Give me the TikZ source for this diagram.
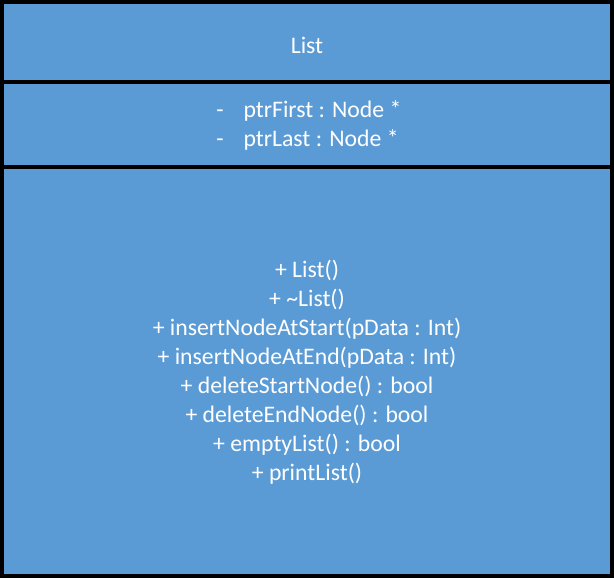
\documentclass[tikz,border=0pt]{standalone}
\usepackage{fontspec}
\setmainfont{Carlito}
\definecolor{umlblue}{HTML}{5B9BD5}
\begin{document}
\begin{tikzpicture}[x=0.75pt,y=-0.75pt,
  box/.style={fill=umlblue,draw=none},
  txt/.style={text=white,font=\fontsize{17.8pt}{21.75pt}\selectfont,inner sep=0pt}]
\fill[black] (0,0) rectangle (614,578);
\useasboundingbox (0,0) rectangle (614,578);
\fill[box] (4,4) rectangle (610,80);
\fill[box] (4,84) rectangle (610,165);
\fill[box] (4,169) rectangle (610,574);
\node[txt] (name) at (307,45) {List};
\node[txt,anchor=west] (attr1) at (216,111) {-\hspace{15pt}ptrFirst : Node *};
\node[txt,anchor=west] (attr2) at (216,140) {-\hspace{15pt}ptrLast : Node *};
\node[txt,align=center] (ops) at (307,372) {+ List()\\+ \textasciitilde List()\\+ insertNodeAtStart(pData : Int)\\+ insertNodeAtEnd(pData : Int)\\+ deleteStartNode() : bool\\+ deleteEndNode() : bool\\+ emptyList() : bool\\+ printList()};
\end{tikzpicture}
\end{document}
